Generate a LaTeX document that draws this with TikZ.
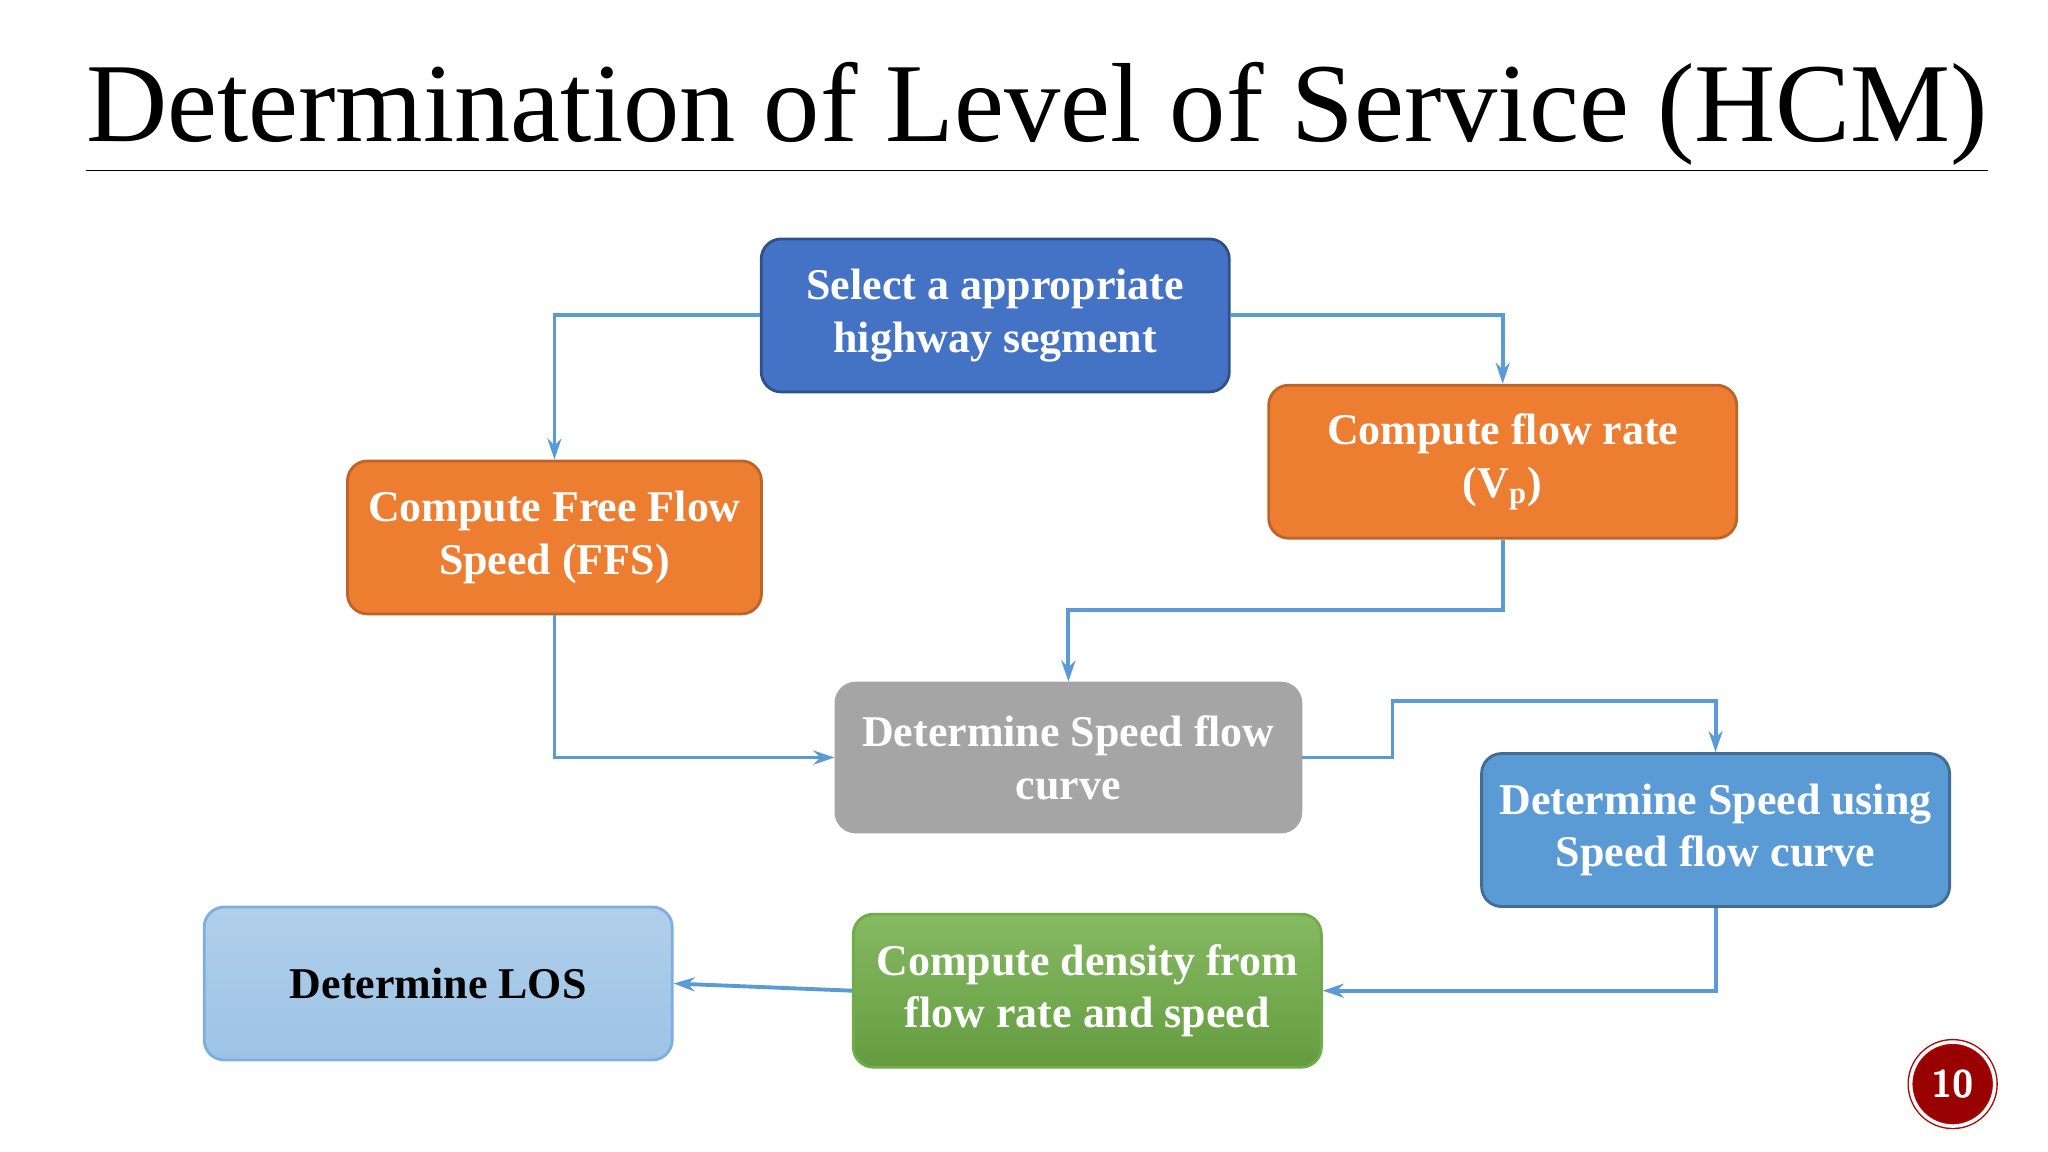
\documentclass[tikz,border=0pt]{standalone}
\usepackage{fontspec}
\setmainfont{Liberation Serif}
\usetikzlibrary{arrows.meta}
\definecolor{cblue}{HTML}{4472C4}
\definecolor{corange}{HTML}{ED7D31}
\definecolor{cgray}{HTML}{A5A5A5}
\definecolor{lblue}{HTML}{5B9BD5}
\definecolor{cgreen}{HTML}{70AD47}
\definecolor{pale}{HTML}{9DC3E6}
\begin{document}
\begin{tikzpicture}[x=0.01306cm,y=-0.01306cm,
 box/.style={rounded corners=0.2cm,draw,line width=0.8pt,align=center,text=white,
  font=\fontsize{12.5}{15}\selectfont\bfseries,minimum width=4.68cm,minimum height=1.53cm,inner sep=0pt},
 con/.style={draw=lblue,line width=1.1pt,-{Stealth[length=6pt,width=4pt]}}]
\useasboundingbox[fill=white] (0,0) rectangle (1568,882);
\node[font=\fontsize{32}{36}\selectfont] (title) at (794,90) {\underline{Determination of Level of Service (HCM)}};
\node[box,fill=cblue,draw=cblue!70!black] (sel) at (762,241.5) {Select a appropriate\\highway segment};
\node[box,fill=corange,draw=corange!80!black] (flow) at (1150.5,353.5) {Compute flow rate\\(V\textsubscript{p})};
\node[box,fill=corange,draw=corange!80!black,minimum width=4.14cm] (ffs) at (424.5,411.5) {Compute Free Flow\\Speed (FFS)};
\node[box,fill=cgray,draw=cgray,minimum width=4.65cm,minimum height=1.49cm] (curve) at (818,580) {Determine Speed flow\\curve};
\node[box,fill=lblue,draw=lblue!70!black] (spd) at (1313.5,635.5) {Determine Speed using\\Speed flow curve};
\node[box,top color=cgreen!85!white,bottom color=cgreen!90!black,draw=cgreen] (den) at (832.5,758.5) {Compute density from\\flow rate and speed};
\node[box,top color=pale!80!white,bottom color=pale,draw=lblue!80,text=black] (los) at (335.5,753) {Determine LOS};
\draw[con] (sel.west) -| (ffs.north);
\draw[con] (sel.east) -| (flow.north);
\draw[con] (flow.south) -- ++(0,54) -| (curve.north);
\draw[con] (ffs.south) |- (curve.west);
\draw[con] (curve.east) -- ++(69,0) -- ++(0,-43) -| (spd.north);
\draw[con] (spd.south) |- (den.east);
\draw[con] (den.west) -- (los.east);
\node[circle,fill=red!60!black,draw=red!70!black,double=white,double distance=1pt,minimum size=0.7cm,text=white,font=\sffamily\bfseries\fontsize{11}{12}\selectfont] (pg) at (1495,830) {10};
\end{tikzpicture}
\end{document}
